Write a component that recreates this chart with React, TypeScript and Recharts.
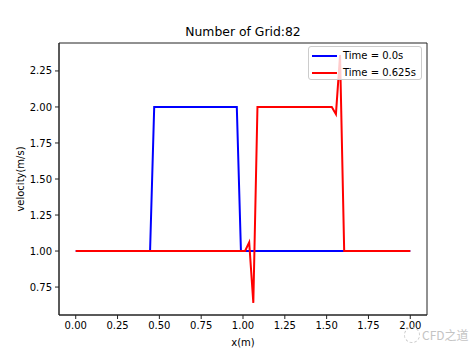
import { LineChart, Line, XAxis, YAxis, Legend, ReferenceArea } from 'recharts'

// grid of 82 points on [0, 2]
const N_GRID = 82
const X_GRID = Array.from({ length: N_GRID }, (_, i) => (i * 2) / (N_GRID - 1))

// velocity at t = 0.0s
const U_T0 = [
  1, 1, 1, 1, 1, 1, 1, 1, 1, 1,
  1, 1, 1, 1, 1, 1, 1, 1, 1, 2,
  2, 2, 2, 2, 2, 2, 2, 2, 2, 2,
  2, 2, 2, 2, 2, 2, 2, 2, 2, 2,
  1, 1, 1, 1, 1, 1, 1, 1, 1, 1,
  1, 1, 1, 1, 1, 1, 1, 1, 1, 1,
  1, 1, 1, 1, 1, 1, 1, 1, 1, 1,
  1, 1, 1, 1, 1, 1, 1, 1, 1, 1,
  1, 1,
]

// velocity at t = 0.625s
const U_T1 = [
  1, 1, 1, 1, 1, 1, 1, 1, 1, 1,
  1, 1, 1, 1, 1, 1, 1, 1, 1, 1,
  1, 1, 1, 1, 1, 1, 1, 1, 1, 1,
  1, 1, 1, 1, 1, 1, 1, 1, 1, 1,
  1, 1, 1.06, 0.64, 2, 2, 2, 2, 2, 2,
  2, 2, 2, 2, 2, 2, 2, 2, 2, 2,
  2, 2, 2, 1.95, 2.36, 1, 1, 1, 1, 1,
  1, 1, 1, 1, 1, 1, 1, 1, 1, 1,
  1, 1,
]

const X_TICKS = [0, 0.25, 0.5, 0.75, 1, 1.25, 1.5, 1.75, 2]
const Y_TICKS = [0.75, 1, 1.25, 1.5, 1.75, 2, 2.25]
const X_DOMAIN = [-0.1, 2.1]
const Y_DOMAIN = [0.556, 2.444]

const data = X_GRID.map((x, i) => ({ x, u0: U_T0[i], u1: U_T1[i] }))

const FONT = 'DejaVu Sans, sans-serif'
const AXIS = '#222'

const LegendBox = ({ payload }: any) => (
  <div
    style={{
      width: 114,
      height: 34,
      boxSizing: 'border-box',
      border: '1px solid #ccc',
      borderRadius: 3,
      background: 'rgba(255,255,255,0.8)',
      fontFamily: FONT,
      fontSize: 10,
      color: '#000',
      paddingTop: 1,
      whiteSpace: 'nowrap',
    }}
  >
    {(payload || []).map((p: any) => (
      <div key={p.value} style={{ display: 'flex', alignItems: 'center', height: 16.5 }}>
        <div style={{ flex: 'none', width: 25, height: 2, background: p.color, marginLeft: 3, marginRight: 6 }} />
        <span style={{ lineHeight: '16px' }}>{p.value}</span>
      </div>
    ))}
  </div>
)

export default function App() {
  return (
    <div style={{ position: 'relative', width: 474, height: 355, background: '#fff' }}>
      <style>{'body{margin:0}'}</style>
      <div
        style={{
          position: 'absolute',
          top: 25,
          left: 0,
          width: 486,
          textAlign: 'center',
          fontFamily: FONT,
          fontSize: 12.4,
          lineHeight: '14px',
          color: '#000',
        }}
      >
        Number of Grid:82
      </div>
      <LineChart width={474} height={355} data={data} margin={{ top: 43, right: 47, left: 0, bottom: 0 }}>
        <XAxis
          dataKey="x"
          type="number"
          domain={X_DOMAIN}
          ticks={X_TICKS}
          tickFormatter={(v: number) => v.toFixed(2)}
          height={40}
          tickSize={4}
          tickMargin={3}
          stroke={AXIS}
          tick={{ fill: '#000', fontSize: 10, fontFamily: FONT }}
          label={{ value: 'x(m)', position: 'insideBottom', offset: 9, fill: '#000', fontSize: 10, fontFamily: FONT }}
        />
        <YAxis
          type="number"
          domain={Y_DOMAIN}
          ticks={Y_TICKS}
          tickFormatter={(v: number) => v.toFixed(2)}
          width={59}
          tickSize={4}
          tickMargin={3}
          stroke={AXIS}
          tick={{ fill: '#000', fontSize: 10, fontFamily: FONT }}
          label={{
            value: 'velocity(m/s)',
            angle: -90,
            position: 'insideLeft',
            offset: 20,
            fill: '#000',
            fontSize: 10,
            fontFamily: FONT,
            style: { textAnchor: 'middle' },
          }}
        />
        {/* axes frame */}
        <ReferenceArea
          x1={X_DOMAIN[0]}
          x2={X_DOMAIN[1]}
          y1={Y_DOMAIN[0]}
          y2={Y_DOMAIN[1]}
          fill="none"
          fillOpacity={0}
          stroke={AXIS}
          strokeWidth={1}
        />
        <Legend
          layout="horizontal"
          verticalAlign="middle"
          align="center"
          content={<LegendBox />}
          wrapperStyle={{ position: 'absolute', top: 46, left: 308, width: 114 }}
        />
        <Line type="linear" dataKey="u0" name="Time = 0.0s" stroke="#0000ff" strokeWidth={2} dot={false} isAnimationActive={false} />
        <Line type="linear" dataKey="u1" name="Time = 0.625s" stroke="#ff0000" strokeWidth={2} dot={false} isAnimationActive={false} />
      </LineChart>
      <div
        style={{
          position: 'absolute',
          left: 404,
          top: 327,
          width: 14,
          height: 14,
          borderRadius: '50%',
          border: '1px dashed #ccc',
        }}
      />
      <div
        style={{
          position: 'absolute',
          left: 422,
          top: 327,
          fontFamily: '"Noto Sans CJK SC", sans-serif',
          fontSize: 12,
          lineHeight: '16px',
          color: '#c4c4c4',
        }}
      >
        CFD之道
      </div>
    </div>
  )
}
